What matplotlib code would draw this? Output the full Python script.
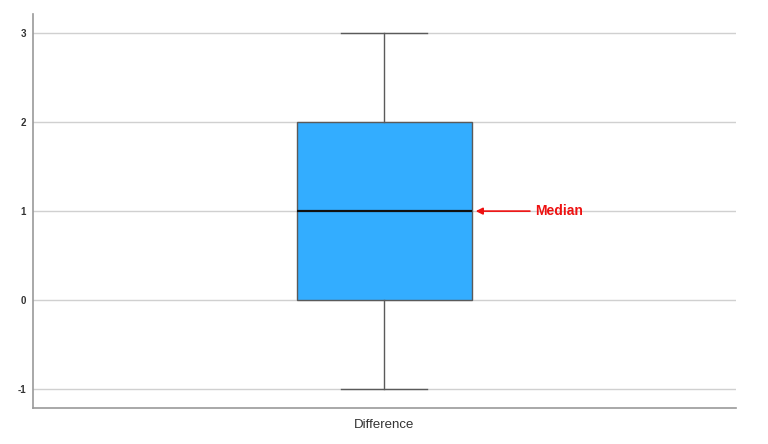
import matplotlib
matplotlib.use("Agg")
import matplotlib.pyplot as plt

plt.rcParams["font.family"] = ["Liberation Sans", "DejaVu Sans"]

categories = ["Difference"]
whisker_low = [-1]
q1 = [0]
median = [1]
q3 = [2]
whisker_high = [3]
yticks = [-1, 0, 1, 2, 3]

fig = plt.figure(figsize=(7.68, 4.44), dpi=100)
ax = fig.add_axes([0.043, 0.081, 0.915, 0.887])

stats = []
for i, c in enumerate(categories):
    stats.append(dict(label=c, whislo=whisker_low[i], q1=q1[i], med=median[i],
                      q3=q3[i], whishi=whisker_high[i], fliers=[]))

ax.bxp(stats, positions=[1], widths=0.5, patch_artist=True, showfliers=False,
       boxprops=dict(facecolor="#33ADFF", edgecolor="#5a5a5a", linewidth=1.0),
       medianprops=dict(color="#111111", linewidth=1.6),
       whiskerprops=dict(color="#5a5a5a", linewidth=1.0),
       capprops=dict(color="#5a5a5a", linewidth=1.0),
       capwidths=0.245, zorder=3)

ax.set_xlim(0, 2)
ax.set_ylim(-1.213, 3.213)
ax.set_yticks(yticks)
ax.set_yticklabels([str(t) for t in yticks], fontsize=7, fontweight="bold", color="#333333")
ax.yaxis.grid(True, color="#d0d0d0", linewidth=1.0, zorder=0)
ax.set_axisbelow(True)
ax.tick_params(axis="both", length=0)
ax.tick_params(axis="x", labelsize=9.5, colors="#333333", pad=8)
ax.tick_params(axis="y", pad=5)
for s in ["top", "right"]:
    ax.spines[s].set_visible(False)
for s in ["left", "bottom"]:
    ax.spines[s].set_color("#999999")
    ax.spines[s].set_linewidth(1.2)

ax.annotate("Median", xy=(1.26, median[0]), xytext=(1.43, median[0]),
            color="#ee1111", fontsize=10, fontweight="bold", va="center", ha="left",
            arrowprops=dict(arrowstyle="-|>", color="#ee1111", lw=1.2,
                            mutation_scale=10, shrinkA=2, shrinkB=0))

fig.savefig("out.png", dpi=100, facecolor="white")
